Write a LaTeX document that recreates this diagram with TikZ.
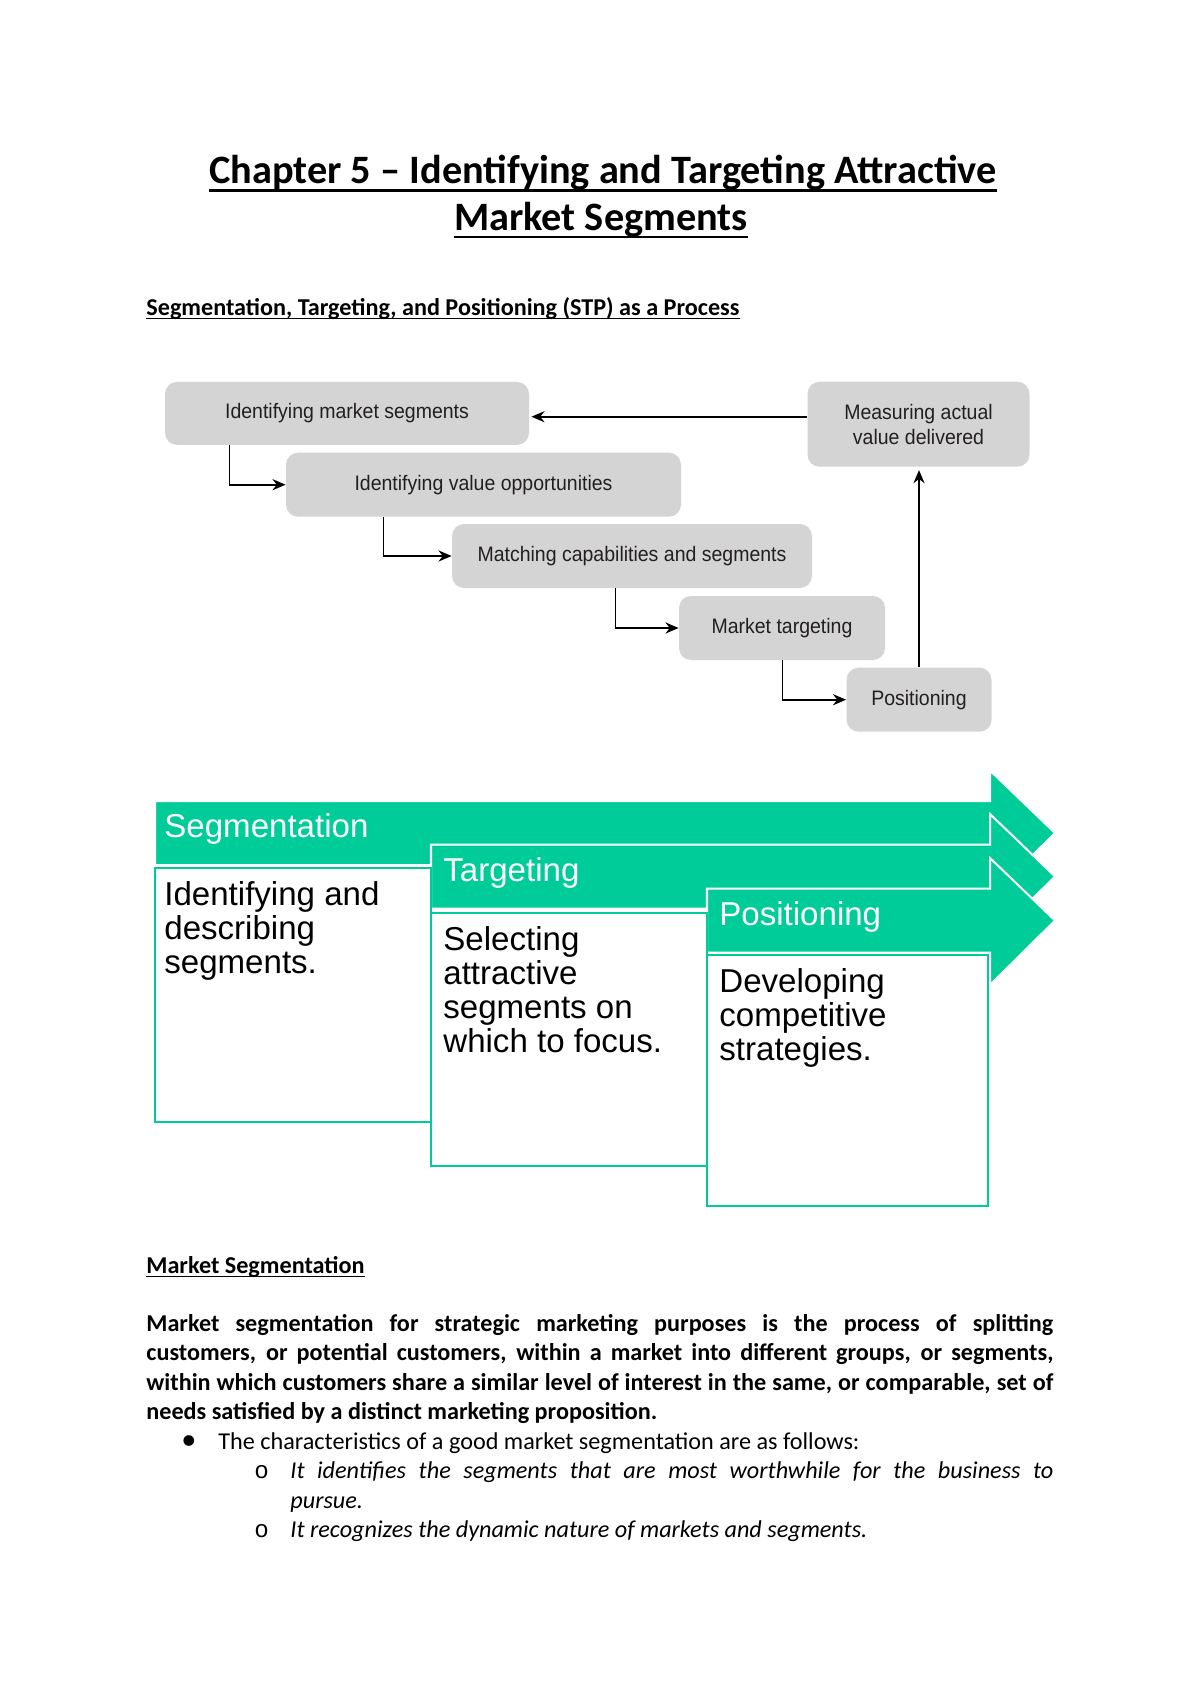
\documentclass[tikz,border=0pt]{standalone}
\usepackage{fontspec}
\setmainfont{Carlito}
\newfontfamily\stpfont{Liberation Sans}
\newfontfamily\procfont[FakeStretch=0.93]{Liberation Sans}
\newfontfamily\markfont{Liberation Mono}
\usepackage{tikz}
\usetikzlibrary{calc,arrows.meta}

\definecolor{stpgreen}{RGB}{0,204,153}
\definecolor{boxgray}{RGB}{212,212,213}
\definecolor{boxtext}{RGB}{35,31,32}
\newlength{\px}
\setlength{\px}{0.49606pt}

\begin{document}
\begin{tikzpicture}[x=0.49606pt, y=-0.49606pt,
  title/.style={anchor=base, inner sep=0pt, font=\bfseries\fontsize{20}{24}\selectfont},
  head/.style={anchor=base west, inner sep=0pt, font=\bfseries\fontsize{12}{14.6}\selectfont},
  body/.style={anchor=base west, inner sep=0pt, font=\fontsize{12}{14.6}\selectfont},
  proc/.style={rectangle, rounded corners=6pt, fill=boxgray, text=boxtext, inner sep=0pt,
    align=center, font=\procfont\fontsize{10.4}{12.4}\selectfont},
  flow/.style={-{Stealth[length=6.5pt,width=5.5pt]}, line width=0.8pt},
  band/.style={fill=stpgreen, draw=white, line width=1pt},
  stepbox/.style={fill=white, draw=stpgreen, line width=1.2pt},
  bandlabel/.style={anchor=base west, inner sep=0pt, text=white, font=\stpfont\fontsize{16.4}{17}\selectfont},
  steptext/.style={anchor=north west, inner sep=0pt, align=left, font=\stpfont\fontsize{16.4}{16.9}\selectfont}
]
\fill[white] (0,0) rectangle (1200,1698);
\useasboundingbox (0,0) rectangle (1200,1698);

  % titre
\node[title] (ttl1) at (603,183.3) {Chapter 5 – Identifying and Targeting Attractive};
\node[title] (ttl2) at (601,230) {Market Segments\ };
\draw[line width=1.2pt] ([yshift=-3.5pt]ttl1.base west) -- ([yshift=-3.5pt]ttl1.base east);
\draw[line width=1.2pt] ([yshift=-3.5pt]ttl2.base west) -- ([yshift=-3.5pt]ttl2.base east);

\node[head] (stp) at (146,315) {Segmentation, Targeting, and Positioning (STP) as a Process};
\draw[line width=0.7pt] ([yshift=-1.7pt]stp.base west) -- ([yshift=-1.7pt]stp.base east);

  % process boxes
\node[proc, minimum width=364\px, minimum height=63\px] (idseg) at (347,413.4) {Identifying market segments};
\node[proc, minimum width=395\px, minimum height=64\px] (idval) at (483.5,484.7) {Identifying value opportunities};
\node[proc, minimum width=360\px, minimum height=64\px] (match) at (632,556) {Matching capabilities and segments};
\node[proc, minimum width=206\px, minimum height=64\px] (mtarg) at (782,628) {Market targeting};
\node[proc, minimum width=145\px, minimum height=64\px] (posn) at (919,699.7) {Positioning};
\node[proc, minimum width=222\px, minimum height=85\px] (measure) at (918.5,424.2) {Measuring actual\\value delivered};

\draw[flow] ($(idseg.south west)+(65,0)$) |- (idval.west);
\draw[flow] ($(idval.south west)+(98,0)$) |- (match.west);
\draw[flow] ($(match.south west)+(164,0)$) |- (mtarg.west);
\draw[flow] ($(mtarg.south west)+(104,0)$) |- (posn.west);
\draw[flow, shorten >=1.5pt] (posn.north) -- (posn.north |- measure.south);
\draw[flow, shorten >=1pt] ($(measure.west)+(0,-7.5)$) -- ($(idseg.east)+(0,3.3)$);

  % stp arrows
\foreach \l/\t in {155/801, 431/844.5, 707/888.5}
  \draw[band] (\l,\t) -- (990,\t) -- (990,\t-30.5) -- (1055,\t+32) -- (990,\t+96.5)
    -- (990,\t+64) -- (\l,\t+64) -- cycle;

\draw[stepbox] (155,868) rectangle (431,1122);
\draw[stepbox] (431,913) rectangle (707,1166);
\draw[stepbox] (707,955) rectangle (988,1206);

\node[bandlabel] (segl) at (164,837) {Segmentation};
\node[bandlabel] (targl) at (443,881) {Targeting};
\node[bandlabel] (posl) at (719,925) {Positioning};

\node[steptext] (segt) at (164,881) {Identifying and\\describing\\segments.};
\node[steptext] (targt) at (443,926) {Selecting\\attractive\\segments on\\which to focus.};
\node[steptext] (post) at (719,968) {Developing\\competitive\\strategies.};

  % texte
\node[head] (mseg) at (146,1273) {Market Segmentation};
\draw[line width=0.7pt] ([yshift=-1.7pt]mseg.base west) -- ([yshift=-1.7pt]mseg.base east);

\node[head] (par1) at (146,1331) {\makebox[907\px][s]{Market segmentation for strategic marketing purposes is the process of splitting}};
\node[head] (par2) at (146,1360.5) {\makebox[907\px][s]{customers, or potential customers, within a market into different groups, or segments,}};
\node[head] (par3) at (146,1390) {\makebox[907\px][s]{within which customers share a similar level of interest in the same, or comparable, set of}};
\node[head] (par4) at (146,1419.5) {needs satisfied by a distinct marketing proposition.};

\node[body] (blt) at (181,1449) {{\fontsize{15}{15}\selectfont •}};
\node[body] (chr) at (218,1449) {The characteristics of a good market segmentation are as follows:};
\node[body, font=\markfont\fontsize{12}{14.6}\selectfont] (o1) at (254,1478.5) {o};
\node[body, font=\itshape\fontsize{12}{14.6}\selectfont] (sub1) at (290,1478.5) {\makebox[763\px][s]{It identifies the segments that are most worthwhile for the business to}};
\node[body, font=\itshape\fontsize{12}{14.6}\selectfont] (sub1b) at (290,1508) {pursue.};
\node[body, font=\markfont\fontsize{12}{14.6}\selectfont] (o2) at (254,1537.5) {o};
\node[body, font=\itshape\fontsize{12}{14.6}\selectfont] (sub2) at (290,1537.5) {It recognizes the dynamic nature of markets and segments.};

\end{tikzpicture}
\end{document}
